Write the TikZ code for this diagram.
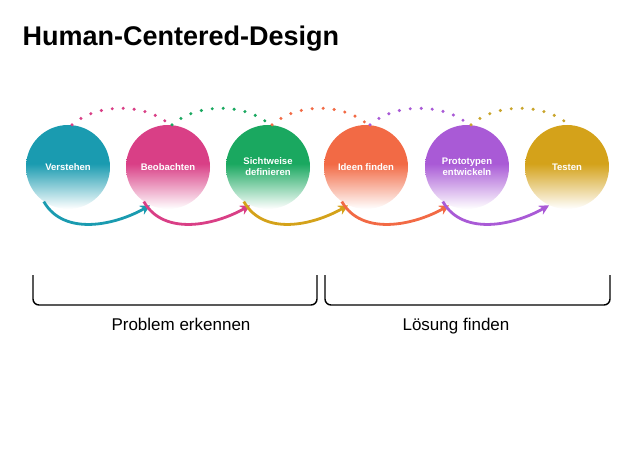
\documentclass[tikz,border=0pt]{standalone}
\usepackage{fontspec}
\setmainfont{Liberation Sans}
\usetikzlibrary{arrows.meta}
\definecolor{cA}{HTML}{1A9BB0}
\definecolor{cB}{HTML}{D93F86}
\definecolor{cC}{HTML}{1AA860}
\definecolor{cD}{HTML}{F26A45}
\definecolor{cE}{HTML}{A95AD6}
\definecolor{cF}{HTML}{D4A21A}
\definecolor{cG}{HTML}{C9A52C}
\pgfdeclareverticalshading{shcA}{100bp}{color(0bp)=(white); color(25bp)=(white); color(52bp)=(cA); color(100bp)=(cA)}
\pgfdeclareverticalshading{shcB}{100bp}{color(0bp)=(white); color(25bp)=(white); color(52bp)=(cB); color(100bp)=(cB)}
\pgfdeclareverticalshading{shcC}{100bp}{color(0bp)=(white); color(25bp)=(white); color(52bp)=(cC); color(100bp)=(cC)}
\pgfdeclareverticalshading{shcD}{100bp}{color(0bp)=(white); color(25bp)=(white); color(52bp)=(cD); color(100bp)=(cD)}
\pgfdeclareverticalshading{shcE}{100bp}{color(0bp)=(white); color(25bp)=(white); color(52bp)=(cE); color(100bp)=(cE)}
\pgfdeclareverticalshading{shcF}{100bp}{color(0bp)=(white); color(25bp)=(white); color(52bp)=(cF); color(100bp)=(cF)}
\begin{document}
\begin{tikzpicture}[x=1pt,y=-1pt,
  stepnode/.style={circle,minimum size=84pt,inner sep=0pt,text=white,font=\bfseries\fontsize{9.5}{11}\selectfont,align=center},
  dots/.style={line width=3.4pt,line cap=round,dash pattern=on 0pt off 11pt},
  arr/.style={line width=2.8pt,-{Stealth[length=10pt,width=10pt]}},
  brace/.style={line width=1.4pt,rounded corners=6pt},
  lab/.style={font=\fontsize{17}{20}\selectfont,anchor=base}]
\useasboundingbox (0,0) rectangle (638,452);
\node[font=\bfseries\fontsize{27}{32}\selectfont,anchor=west] (title) at (19,39) {Human-Centered-Design};
\foreach \n/\x/\c/\t in {a/68/cA/Verstehen,b/168/cB/Beobachten,c/268/cC/{Sichtweise\\definieren},d/366/cD/Ideen finden,e/467/cE/{Prototypen\\entwickeln},f/567/cF/Testen}{
  \node[stepnode,shading=sh\c] (\n) at (\x,167) {\t};
}
\foreach \p/\q/\c in {a/b/cB,b/c/cC,c/d/cD,d/e/cE,e/f/cG}{
  \draw[dots,\c] ([xshift=4pt]\p.north) .. controls +(25,-22) and +(-25,-22) .. ([xshift=2pt]\q.north);
}
\foreach \p/\q/\c in {a/b/cA,b/c/cB,c/d/cF,d/e/cD,e/f/cE}{
  \draw[arr,\c] (\p.-125) .. controls +(20,35) and +(-35,20) .. (\q.-115);
}
\draw[brace] (33,275) |- (175,305) -| (317,275);
\draw[brace] (325,275) |- (467,305) -| (610,275);
\node[lab] (l1) at (181,330) {Problem erkennen};
\node[lab] (l2) at (456,330) {Lösung finden};
\end{tikzpicture}
\end{document}
